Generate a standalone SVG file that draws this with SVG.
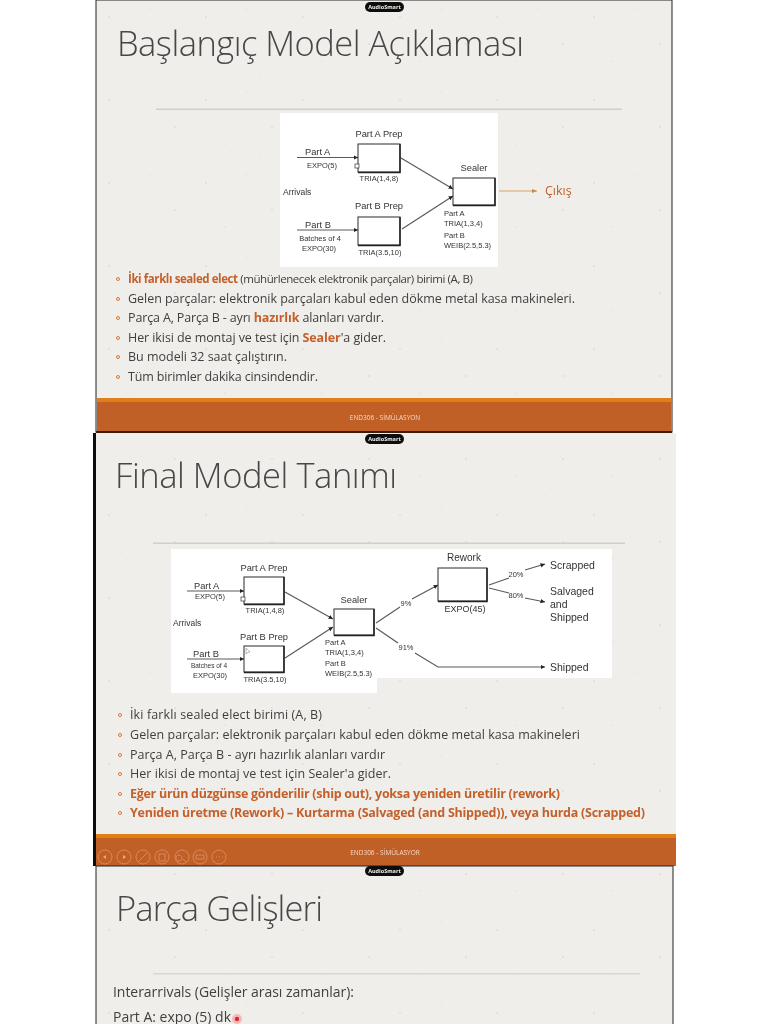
<svg xmlns="http://www.w3.org/2000/svg" width="768" height="1024" viewBox="0 0 768 1024">
<defs>
<style>
.t{font-family:"Open Sans","Noto Sans","Liberation Sans",sans-serif}
.title{font-family:"Open Sans","Noto Sans",sans-serif;font-weight:300;font-size:34.500px;fill:#474747}
.b{font-family:"Open Sans","Noto Sans",sans-serif;font-size:12.500px;fill:#3f3f3f}
.o{font-weight:700;fill:#c5602a}
.a{font-family:"Liberation Sans",Arial,sans-serif;font-size:9.300px;fill:#333}
.s{font-size:7.500px}
.m{text-anchor:middle}
.box{fill:#fff;stroke:#2b2b2b;stroke-width:1}
.sh{fill:none;stroke:#222;stroke-width:1.500}
.l{fill:none;stroke:#5a5a5a;stroke-width:1.200}
.ft{font-family:"Open Sans","Noto Sans",sans-serif;font-size:6.500px;fill:#f6d9c4;text-anchor:middle}
.bd{fill:#111}
.bt{font-family:"Open Sans","Liberation Sans",sans-serif;font-size:5.500px;font-weight:700;fill:#eee;text-anchor:middle}
.dot{fill:none;stroke:#d9773a;stroke-width:1}
.ctl{fill:none;stroke:#d98a5e;stroke-width:1}
</style>
<pattern id="sp" width="97" height="83" patternUnits="userSpaceOnUse">
<rect width="97" height="83" fill="#efeeea"/>
<circle cx="12" cy="17" r=".7" fill="#cfcec8"/><circle cx="53" cy="9" r=".5" fill="#d5d4ce"/><circle cx="78" cy="44" r=".7" fill="#cbcac4"/><circle cx="31" cy="61" r=".6" fill="#d3d2cc"/><circle cx="66" cy="74" r=".5" fill="#d8d7d1"/>
</pattern>
<marker id="k" markerUnits="userSpaceOnUse" markerWidth="6" markerHeight="6" refX="4.500" refY="3" orient="auto"><path d="M0 .8L4.500 3L0 5.200Z" fill="#222"/></marker>
<marker id="ok" markerUnits="userSpaceOnUse" markerWidth="7" markerHeight="7" refX="5.500" refY="3.500" orient="auto"><path d="M0 1.200L5.500 3.500L0 5.800Z" fill="#c98a3a"/></marker>
<filter id="soft" x="-2%" y="-2%" width="104%" height="104%"><feGaussianBlur stdDeviation="0.35"/></filter>
</defs>
<rect width="768" height="1024" fill="#fff"/>

<g id="slide1" filter="url(#soft)">
<rect x="96" y="0" width="576" height="432" fill="url(#sp)" stroke="#222" stroke-width="1"/>
<rect x="156" y="108.500" width="466" height="1.500" fill="#d0cfc8"/>
<text class="title" x="117" y="56" textLength="407">Başlangıç Model Açıklaması</text>
<rect x="280" y="113" width="218" height="154" fill="#fff"/>
<rect x="97" y="398" width="574" height="4" fill="#e07f14"/>
<rect x="97" y="402" width="574" height="29" fill="#c05f28"/>
<rect x="96" y="431" width="576" height="2" fill="#3a1d10"/>
<text class="ft" x="385" y="420">END306 - SİMÜLASYON</text>
<rect class="bd" x="365" y="2" width="39" height="10" rx="5"/><text class="bt" x="384.500" y="9">AudioSmart</text>
<g id="s1-bullets">
<circle class="dot" cx="118" cy="279" r="1.500"/><text class="b" x="128" y="283" style="font-size:11.500px" textLength="345"><tspan class="o">İki farklı sealed elect</tspan> (mühürlenecek elektronik parçalar) birimi (A, B)</text>
<circle class="dot" cx="118" cy="299" r="1.500"/><text class="b" x="128" y="303" textLength="447">Gelen parçalar: elektronik parçaları kabul eden dökme metal kasa makineleri.</text>
<circle class="dot" cx="118" cy="318" r="1.500"/><text class="b" x="128" y="322" textLength="256">Parça A, Parça B - ayrı <tspan class="o">hazırlık</tspan> alanları vardır.</text>
<circle class="dot" cx="118" cy="338" r="1.500"/><text class="b" x="128" y="342" textLength="258">Her ikisi de montaj ve test için <tspan class="o">Sealer</tspan>'a gider.</text>
<circle class="dot" cx="118" cy="357" r="1.500"/><text class="b" x="128" y="361" textLength="159">Bu modeli 32 saat çalıştırın.</text>
<circle class="dot" cx="118" cy="377" r="1.500"/><text class="b" x="128" y="381" textLength="190">Tüm birimler dakika cinsindendir.</text>
</g>
</g>

<g id="slide2" filter="url(#soft)">
<rect x="96" y="433" width="580" height="433" fill="url(#sp)"/>
<rect x="93" y="433" width="3" height="433" fill="#111"/>
<rect x="153" y="542.500" width="472" height="1.500" fill="#d0cfc8"/>
<text class="title" x="115" y="488" textLength="282">Final Model Tanımı</text>
<rect x="171" y="549" width="441" height="129" fill="#fff"/>
<rect x="171" y="678" width="206" height="15" fill="#fff"/>
<rect x="96" y="834" width="580" height="4" fill="#e07f14"/>
<rect x="96" y="838" width="580" height="28" fill="#c05f28"/>
<text class="ft" x="385" y="855">END306 - SİMÜLASYOR</text>
<g id="controls">
<circle class="ctl" cx="105" cy="857" r="7"/><circle class="ctl" cx="124" cy="857" r="7"/><circle class="ctl" cx="143" cy="857" r="7"/><circle class="ctl" cx="162" cy="857" r="7"/><circle class="ctl" cx="182" cy="857" r="7"/><circle class="ctl" cx="200" cy="857" r="7"/><circle class="ctl" cx="219" cy="857" r="7"/>
<path d="M106 855L103 857L106 859Z M123 855L126 857L123 859Z" fill="#e8ab88"/>
<path class="ctl" d="M139 861L147 853 M159 854h6v7h-6z M179 855a3 3 0 1 0 .1 0 M183 859l3 3 M196 855h8v4h-8z M216 857h1 M219 857h1 M222 857h1"/>
</g>
<rect class="bd" x="365" y="434" width="39" height="10" rx="5"/><text class="bt" x="384.500" y="441">AudioSmart</text>
<g id="s2-bullets">
<circle class="dot" cx="120" cy="715" r="1.500"/><text class="b" x="130" y="719" textLength="192">İki farklı sealed elect birimi (A, B)</text>
<circle class="dot" cx="120" cy="735" r="1.500"/><text class="b" x="130" y="739" textLength="450">Gelen parçalar: elektronik parçaları kabul eden dökme metal kasa makineleri</text>
<circle class="dot" cx="120" cy="755" r="1.500"/><text class="b" x="130" y="759" textLength="255">Parça A, Parça B - ayrı hazırlık alanları vardır</text>
<circle class="dot" cx="120" cy="774" r="1.500"/><text class="b" x="130" y="778" textLength="261">Her ikisi de montaj ve test için Sealer'a gider.</text>
<circle class="dot" cx="120" cy="794" r="1.500"/><text class="b o" x="130" y="798" textLength="430">Eğer ürün düzgünse gönderilir (ship out), yoksa yeniden üretilir (rework)</text>
<circle class="dot" cx="120" cy="813" r="1.500"/><text class="b o" x="130" y="817" textLength="515">Yeniden üretme (Rework) – Kurtarma (Salvaged (and Shipped)), veya hurda (Scrapped)</text>
</g>
</g>

<g id="slide3" filter="url(#soft)">
<rect x="96" y="866" width="577" height="160" fill="url(#sp)" stroke="#222" stroke-width="1"/>
<rect x="153" y="973" width="487" height="1.500" fill="#d8d7d1"/>
<text class="title" x="116" y="921" textLength="207">Parça Gelişleri</text>
<rect class="bd" x="365" y="866" width="39" height="10" rx="5"/><text class="bt" x="384.500" y="873">AudioSmart</text>
<text class="t" x="113" y="997" font-size="14" fill="#3f3f3f" textLength="241">Interarrivals (Gelişler arası zamanlar):</text>
<text class="t" x="113" y="1022" font-size="14" fill="#3f3f3f" textLength="118">Part A: expo (5) dk</text>
<circle cx="237" cy="1019" r="5" fill="#f6b9b9"/><circle cx="237" cy="1019" r="2.200" fill="#e02a2a"/>
</g>

<g id="connectors" filter="url(#soft)">
<path class="l" marker-end="url(#k)" d="M297 157.500H358"/>
<path class="l" marker-end="url(#k)" d="M297 230H358"/>
<path class="l" marker-end="url(#k)" d="M401 158L453 189"/>
<path class="l" marker-end="url(#k)" d="M402 229L453 196"/>
<path fill="none" stroke="#d9a56a" stroke-width="1.200" marker-end="url(#ok)" d="M499 191H537"/>
<path class="l" marker-end="url(#k)" d="M187 591H244"/>
<path class="l" marker-end="url(#k)" d="M187 659H244"/>
<path class="l" marker-end="url(#k)" d="M285 592L333 619"/>
<path class="l" marker-end="url(#k)" d="M285 658L333 627"/>
<path class="l" d="M376 623L400 607"/>
<path class="l" marker-end="url(#k)" d="M412 599L438 585"/>
<path class="l" d="M376 628L398 643"/>
<path class="l" marker-end="url(#k)" d="M415 653L438 667H545"/>
<path class="l" d="M489 585L509 578"/>
<path class="l" marker-end="url(#k)" d="M525 570L545 564"/>
<path class="l" d="M489 588L509 593"/>
<path class="l" marker-end="url(#k)" d="M525 598L545 602"/>
</g>

<g id="d1-partA" filter="url(#soft)">
<rect class="box" x="358" y="144" width="42" height="28"/><path class="sh" d="M400 144V172.500H358"/>
<rect x="355" y="164" width="4" height="4" fill="#fff" stroke="#333" stroke-width=".7"/>
<text class="a m" x="379" y="137">Part A Prep</text>
<text class="a" x="305" y="154.500">Part A</text>
<text class="a s m" x="322" y="168">EXPO(5)</text>
<text class="a s m" x="379" y="181">TRIA(1,4,8)</text>
</g>
<g id="d1-arrivals" filter="url(#soft)"><text class="a" style="font-size:8.500px" x="283" y="195">Arrivals</text></g>
<g id="d1-partB" filter="url(#soft)">
<rect class="box" x="358" y="217" width="42" height="28"/><path class="sh" d="M400 217V245.500H358"/>
<text class="a m" x="379" y="209">Part B Prep</text>
<text class="a m" x="318" y="227.500">Part B</text>
<text class="a s m" x="320" y="241">Batches of 4</text>
<text class="a s m" x="319" y="251">EXPO(30)</text>
<text class="a s m" x="380" y="255">TRIA(3.5,10)</text>
</g>
<g id="d1-sealer" filter="url(#soft)">
<rect class="box" x="453" y="178" width="42" height="27"/><path class="sh" d="M495 178V205.500H453"/>
<text class="a m" x="474" y="171">Sealer</text>
<text class="a s" x="444" y="216">Part A</text>
<text class="a s" x="444" y="226">TRIA(1,3,4)</text>
<text class="a s" x="444" y="238">Part B</text>
<text class="a s" x="444" y="248">WEIB(2.5,5.3)</text>
</g>
<g id="d1-exit" filter="url(#soft)"><text class="t" x="545" y="195" font-size="12.500" fill="#c5602a">Çıkış</text></g>

<g id="d2-partA" filter="url(#soft)">
<rect class="box" x="244" y="577" width="40" height="27"/><path class="sh" d="M284 577V604.500H244"/>
<rect x="241" y="597" width="4" height="4" fill="#fff" stroke="#333" stroke-width=".7"/>
<text class="a m" x="264" y="571">Part A Prep</text>
<text class="a" x="194" y="588.500">Part A</text>
<text class="a s m" x="210" y="599">EXPO(5)</text>
<text class="a s m" x="265" y="613">TRIA(1,4,8)</text>
</g>
<g id="d2-arrivals" filter="url(#soft)"><text class="a" style="font-size:8.500px" x="173" y="626">Arrivals</text></g>
<g id="d2-partB" filter="url(#soft)">
<rect class="box" x="244" y="646" width="40" height="26"/><path class="sh" d="M284 646V672.500H244"/>
<path d="M246 648L246 654L248 652.500L250 652Z" fill="#fff" stroke="#888" stroke-width=".6"/>
<text class="a m" x="264" y="640">Part B Prep</text>
<text class="a m" x="206" y="656.500">Part B</text>
<text class="a m" style="font-size:6.500px" x="209" y="668">Batches of 4</text>
<text class="a s m" x="210" y="678">EXPO(30)</text>
<text class="a s m" x="265" y="682">TRIA(3.5,10)</text>
</g>
<g id="d2-sealer" filter="url(#soft)">
<rect class="box" x="334" y="609" width="40" height="26"/><path class="sh" d="M374 609V635.500H334"/>
<text class="a m" x="354" y="603">Sealer</text>
<text class="a s" x="325" y="645">Part A</text>
<text class="a s" x="325" y="655">TRIA(1,3,4)</text>
<text class="a s" x="325" y="666">Part B</text>
<text class="a s" x="325" y="676">WEIB(2.5,5.3)</text>
</g>
<g id="d2-rework" filter="url(#soft)">
<rect class="box" x="438" y="568" width="49" height="33"/><path class="sh" d="M487 568V601.500H438"/>
<text class="a m" style="font-size:10px" x="464" y="561">Rework</text>
<text class="a m" style="font-size:9px" x="465" y="612">EXPO(45)</text>
<text class="a s m" x="406" y="606">9%</text>
<text class="a s m" x="406" y="650">91%</text>
<text class="a s m" x="516" y="577">20%</text>
<text class="a s m" x="516" y="598">80%</text>
</g>
<g id="d2-outcomes" filter="url(#soft)">
<text class="a" style="font-size:10.500px" x="550" y="569">Scrapped</text>
<text class="a" style="font-size:10.500px" x="550" y="595">Salvaged</text>
<text class="a" style="font-size:10.500px" x="550" y="608">and</text>
<text class="a" style="font-size:10.500px" x="550" y="621">Shipped</text>
<text class="a" style="font-size:10.500px" x="550" y="671">Shipped</text>
</g>
</svg>
